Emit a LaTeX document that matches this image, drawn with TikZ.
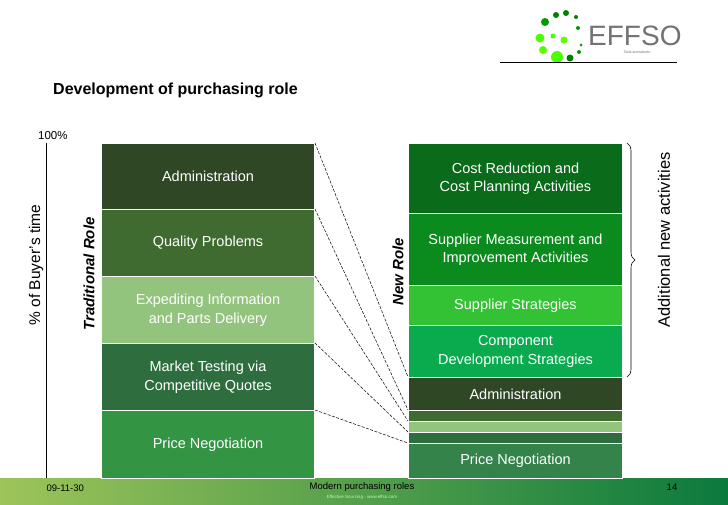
\documentclass[tikz,border=0pt]{standalone}
\usepackage{fontspec}
\setmainfont{Liberation Sans}
\usetikzlibrary{decorations.pathreplacing}
\definecolor{cA}{HTML}{2F4725}
\definecolor{cB}{HTML}{3F6A30}
\definecolor{cC}{HTML}{93C47D}
\definecolor{cD}{HTML}{2E6E3E}
\definecolor{cE}{HTML}{339444}
\definecolor{rA}{HTML}{0A6B1A}
\definecolor{rB}{HTML}{0B8A1E}
\definecolor{rC}{HTML}{33C233}
\definecolor{rD}{HTML}{0AAB4F}
\definecolor{rE}{HTML}{33834A}
\definecolor{fL}{HTML}{9DC45A}
\definecolor{fR}{HTML}{0B7A3D}
\begin{document}
\begin{tikzpicture}[x=1pt,y=-1pt,
  blk/.style={draw=white,line width=1pt,text=white,align=center,font=\fontsize{14.5}{18.5}\selectfont,inner sep=0pt},
  conn/.style={line width=0.5pt,dash pattern=on 3pt off 1.5pt}]
\useasboundingbox (0,0) rectangle (728,504);
\fill[white] (0,0) rectangle (728,504);
% footer
\shade[left color=fL,right color=fR] (0,478) rectangle (728,504);
\node[anchor=west,font=\fontsize{9.5}{11}\selectfont] (date) at (43,488) {09-11-30};
\node[font=\fontsize{9.5}{11}\selectfont] (ft) at (362,487) {Modern purchasing roles};
\node[font=\fontsize{4.5}{5}\selectfont,text=white!70!green] (ft2) at (362,497) {Effective Sourcing - www.effso.com};
\node[font=\fontsize{9.5}{11}\selectfont] (pg) at (672,487) {14};
% logo
\foreach \x/\y/\r/\c in {545/22/4/green!60!black,556/15/3/green!50!black,566/13/3/green!50!black,576/17/2/green!50!black,540/38/4.5/green!60!lime,553/36/2.5/green!60!lime,564/40/3.5/green!50!lime,578/28/2/green!60!black,581/45/1.5/green!60!black,543/50/4/green!55!lime,557/57/6/green!60!lime,570/58/3.5/green!50!black,579/52/2/green!60!black}
  \fill[\c] (\x,\y) circle (\r);
\node[anchor=west,text=black!55,font=\fontsize{28}{30}\selectfont,inner sep=0pt] (logo) at (588,36) {EFFSO};
\node[anchor=west,font=\fontsize{3.5}{4}\selectfont,text=black!60] (tag) at (620,52) {Tools and talents.};
\draw[line width=0.8pt] (500,62) -- (677,62);
% title
\node[anchor=west,font=\bfseries\fontsize{16}{18}\selectfont,inner sep=0pt] (title) at (53,90) {Development of purchasing role};
\node[anchor=west,font=\fontsize{11.5}{13}\selectfont,inner sep=0pt] (hund) at (38,136) {100\%};
\draw[line width=0.8pt] (46,143) -- (46,478);
\node[rotate=90,font=\fontsize{15.5}{17}\selectfont] (ylab) at (36,265) {\% of Buyer's time};
\node[rotate=90,font=\bfseries\itshape\fontsize{15}{17}\selectfont] (trad) at (89,274) {Traditional Role};
\node[rotate=90,font=\bfseries\itshape\fontsize{15}{17}\selectfont] (newr) at (398,272) {New Role};
% left column
\node[blk,fill=cA,minimum width=213pt,minimum height=66pt,anchor=north west] (l1) at (101,143) {Administration};
\node[blk,fill=cB,minimum width=213pt,minimum height=67pt,anchor=north west] (l2) at (101,209) {Quality Problems};
\node[blk,fill=cC,minimum width=213pt,minimum height=67pt,anchor=north west] (l3) at (101,276) {Expediting Information\\and Parts Delivery};
\node[blk,fill=cD,minimum width=213pt,minimum height=67pt,anchor=north west] (l4) at (101,343) {Market Testing via\\Competitive Quotes};
\node[blk,fill=cE,minimum width=213pt,minimum height=68pt,anchor=north west] (l5) at (101,410) {Price Negotiation};
% right column
\node[blk,fill=rA,minimum width=214pt,minimum height=70pt,anchor=north west] (r1) at (408,143) {Cost Reduction and\\Cost Planning Activities};
\node[blk,fill=rB,minimum width=214pt,minimum height=72pt,anchor=north west] (r2) at (408,213) {Supplier Measurement and\\Improvement Activities};
\node[blk,fill=rC,minimum width=214pt,minimum height=40pt,anchor=north west] (r3) at (408,285) {Supplier Strategies};
\node[blk,fill=rD,minimum width=214pt,minimum height=52pt,anchor=north west] (r4) at (408,325) {Component\\Development Strategies};
\node[blk,fill=cA,minimum width=214pt,minimum height=33pt,anchor=north west] (r5) at (408,377) {Administration};
\node[blk,fill=cB,minimum width=214pt,minimum height=11pt,anchor=north west] (r6) at (408,410) {};
\node[blk,fill=cC,minimum width=214pt,minimum height=11pt,anchor=north west] (r7) at (408,421) {};
\node[blk,fill=cD,minimum width=214pt,minimum height=11pt,anchor=north west] (r8) at (408,432) {};
\node[blk,fill=rE,minimum width=214pt,minimum height=35pt,anchor=north west] (r9) at (408,443) {Price Negotiation};
% connectors
\draw[conn] (l1.north east) -- (r5.north west);
\draw[conn] (l2.north east) -- (r6.north west);
\draw[conn] (l3.north east) -- (r7.north west);
\draw[conn] (l4.north east) -- (r8.north west);
\draw[conn] (l5.north east) -- (r9.north west);
% brace
\draw[decorate,decoration={brace,amplitude=8pt},line width=0.6pt] (627,143) -- (627,377);
\node[rotate=90,font=\fontsize{16.5}{18}\selectfont] (addl) at (664,240) {Additional new activities};
\end{tikzpicture}
\end{document}
